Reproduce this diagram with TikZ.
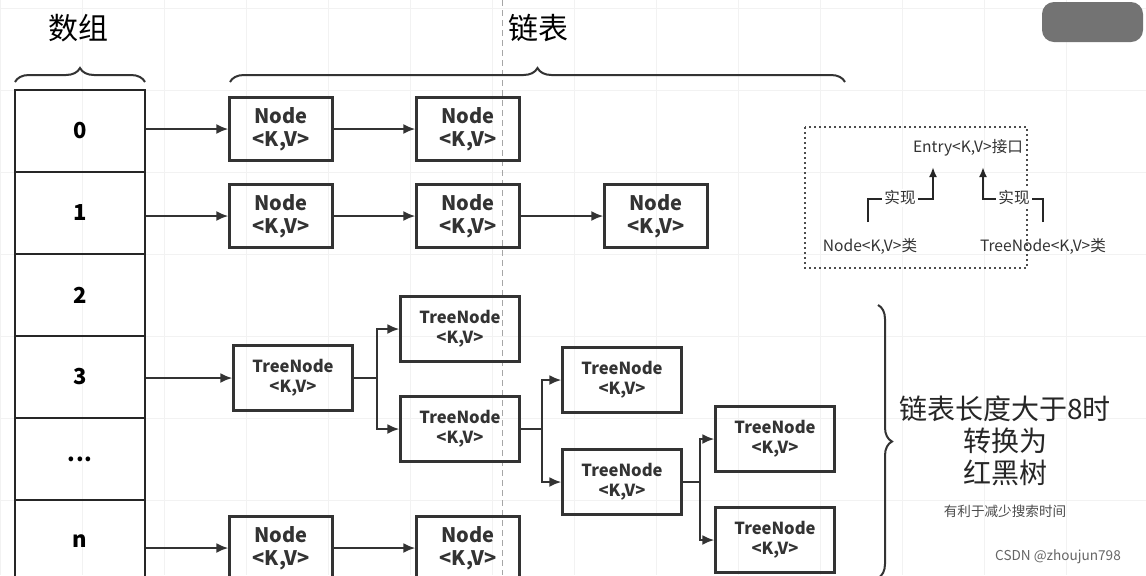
\documentclass[tikz,border=0pt]{standalone}
\usepackage{fontspec}
\setmainfont{Noto Sans CJK SC}
\usetikzlibrary{arrows.meta,decorations.pathreplacing}
\begin{document}
\begin{tikzpicture}[x=0.5pt,y=-0.5pt,
  box/.style={draw=black!80,line width=1.2pt,inner sep=0,align=center,font=\bfseries\fontsize{10}{11.5}\selectfont,text=black!80},
  tbox/.style={box,font=\bfseries\fontsize{8.3}{10}\selectfont},
  cell/.style={draw=black!85,line width=1.2pt,minimum width=65pt,minimum height=41pt,inner sep=0,font=\bfseries\fontsize{11}{13}\selectfont},
  arr/.style={-{Latex[length=6pt,width=5pt]},line width=1pt,draw=black!80},
  ln/.style={line width=1pt,draw=black!80},
  small/.style={font=\fontsize{7.8}{9}\selectfont,text=black!80},
  brc/.style={decorate,decoration={brace,amplitude=7pt},line width=1pt,draw=black!80}]
\useasboundingbox (0,0) rectangle (1146,575);
\fill[white] (0,0) rectangle (1146,575);
\foreach \x in {0,82,...,1146} \draw[black!5] (\x,0)--(\x,575);
\foreach \y in {8,90,...,575} \draw[black!5] (0,\y)--(1146,\y);
\draw[black!35,dash pattern=on 3pt off 2pt] (502,0)--(502,575);
% array
\foreach \i/\t/\y in {0/0/131,1/1/213,2/2/295,3/3/377,4/{\textbf{.\kern0.5pt.\kern0.5pt.}}/459,5/n/541}
  \node[cell] (a\i) at (80,\y) {\t};
\node[font=\fontsize{15}{17}\selectfont] (ta) at (78,28) {数组};
\node[font=\fontsize{15}{17}\selectfont] (tl) at (538,28) {链表};
\draw[brc] (15,82)--(145,82);
\draw[brc] (230,82)--(845,82);
\draw[brc] (878,305)--(878,578);
% linked lists
\tikzset{nb/.style={box,minimum width=51.5pt,minimum height=31.5pt}}
\node[nb] (n01) at (281,129) {Node\\<K,V>};
\node[nb] (n02) at (468,129) {Node\\<K,V>};
\node[nb] (n11) at (281,216) {Node\\<K,V>};
\node[nb] (n12) at (468,216) {Node\\<K,V>};
\node[nb] (n13) at (656,216) {Node\\<K,V>};
\node[nb] (nn1) at (281,548) {Node\\<K,V>};
\node[nb] (nn2) at (468,548) {Node\\<K,V>};
\draw[arr] (a0.east|-n01)--(n01); \draw[arr] (n01)--(n02);
\draw[arr] (a1.east|-n11)--(n11); \draw[arr] (n11)--(n12); \draw[arr] (n12)--(n13);
\draw[arr] (a5.east|-nn1)--(nn1); \draw[arr] (nn1)--(nn2);
% tree
\tikzset{tb/.style={tbox,minimum width=59.5pt,minimum height=32.5pt}}
\node[tb] (r) at (293,378) {TreeNode\\<K,V>};
\node[tb] (tA) at (460,329) {TreeNode\\<K,V>};
\node[tb] (tB) at (460,429) {TreeNode\\<K,V>};
\node[tb] (tC) at (622,380) {TreeNode\\<K,V>};
\node[tb] (tD) at (622,482) {TreeNode\\<K,V>};
\node[tb] (tE) at (775,439) {TreeNode\\<K,V>};
\node[tb] (tF) at (775,540) {TreeNode\\<K,V>};
\draw[arr] (a3.east|-r)--(r);
\coordinate (j1) at (377,378); \coordinate (j2) at (542,429); \coordinate (j3) at (700,482);
\draw[ln] (r.east)--(j1); \draw[arr] (j1)|-(tA.west); \draw[arr] (j1)|-(tB.west);
\draw[ln] (tB.east)--(j2); \draw[arr] (j2)|-(tC.west); \draw[arr] (j2)|-(tD.west);
\draw[ln] (tD.east)--(j3); \draw[arr] (j3)|-(tE.west); \draw[arr] (j3)|-(tF.west);
% right text
\node[align=center,font=\fontsize{14}{16}\selectfont,text=black!85] (rt) at (1005,441) {链表长度大于8时\\转换为\\红黑树};
\node[font=\fontsize{6.8}{8}\selectfont,text=black!70] (rs) at (1005,511) {有利于减少搜索时间};
% entry box
\draw[black!70,line width=1.2pt,dash pattern=on 1pt off 1.5pt] (805,127) rectangle (1027,268);
\node[small] (en) at (968,148) {Entry<K,V>接口};
\node[small] (nd) at (870,246) {Node<K,V>类};
\node[small] (tn) at (1043,246) {TreeNode<K,V>类};
\coordinate (e1) at (933,167); \coordinate (e2) at (983,167);
\draw[-{Latex[length=5pt,width=4pt]},line width=1.2pt,black!85] (868,222)--(868,199)--(933,199)--(e1);
\draw[-{Latex[length=5pt,width=4pt]},line width=1.2pt,black!85] (1043,222)--(1043,199)--(983,199)--(e2);
\node[fill=white,inner sep=1pt,small] (s1) at (900,198) {实现};
\node[fill=white,inner sep=1pt,small] (s2) at (1014,198) {实现};
% overlay & watermark
\fill[black!55,rounded corners=6pt] (1042,2) rectangle (1143,42);
\node[font=\fontsize{6.8}{8}\selectfont,text=black!60] (wm) at (1058,557) {CSDN @zhoujun798};
\end{tikzpicture}
\end{document}
